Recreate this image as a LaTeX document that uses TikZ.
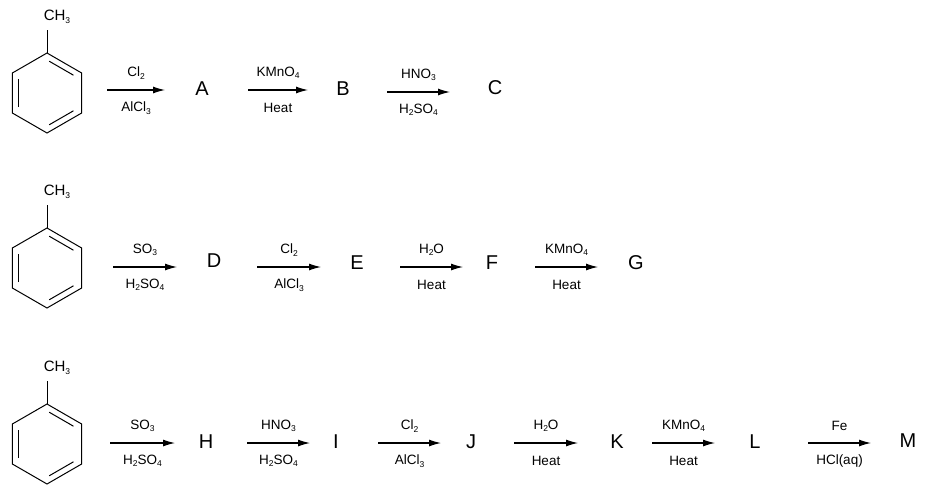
\documentclass[tikz,border=0pt]{standalone}
\usepackage{fontspec}
\setmainfont{Liberation Sans}
\usetikzlibrary{arrows.meta,calc}
\newcommand\sbs[1]{\raisebox{-0.35ex}{\fontsize{8.5}{8.5}\selectfont #1}}
\tikzset{
 rx/.style={-{Latex[length=12pt,width=7pt]}, line width=1.1pt},
 reag/.style={font=\fontsize{13.5}{13.5}\selectfont, inner sep=0pt},
 cmp/.style={font=\fontsize{20}{20}\selectfont, inner sep=0pt},
 bond/.style={line width=1pt}
}
\newcommand\tol[3]{%
 \begin{scope}[shift={(#1,#2)}, y=1pt]
  \coordinate (#3c) at (0,0);
  \draw[bond] (90:40) -- (30:40) -- (-30:40) -- (-90:40) -- (-150:40) -- (150:40) -- cycle;
  \draw[bond] ($(90:40)!0.15!(30:40)+(-120:6)$) -- ($(30:40)!0.15!(90:40)+(-120:6)$);
  \draw[bond] ($(-30:40)!0.15!(-90:40)+(120:6)$) -- ($(-90:40)!0.15!(-30:40)+(120:6)$);
  \draw[bond] ($(-150:40)!0.15!(150:40)+(0:6)$) -- ($(150:40)!0.15!(-150:40)+(0:6)$);
  \draw[bond] (90:40) -- (90:63);
  \node[font=\fontsize{15}{15}\selectfont, inner sep=0pt] (#3m) at (10,76) {CH\sbs{3}};
 \end{scope}}
\begin{document}
\begin{tikzpicture}[x=1pt,y=-1pt]
\useasboundingbox (0,0) rectangle (928,496);
\tol{47}{93}{r1}
\tol{47}{268}{r2}
\tol{47}{444}{r3}
\foreach \n/\a/\b/\y/\t/\u in {a1/107/165/90/Cl\sbs{2}/AlCl\sbs{3}, a2/248/308/90/KMnO\sbs{4}/Heat, a3/387/450/92/HNO\sbs{3}/H\sbs{2}SO\sbs{4},
  b1/113/177/267/SO\sbs{3}/H\sbs{2}SO\sbs{4}, b2/257/321/267/Cl\sbs{2}/AlCl\sbs{3}, b3/400/463/267/H\sbs{2}O/Heat, b4/535/598/267/KMnO\sbs{4}/Heat,
  c1/110/175/443/SO\sbs{3}/H\sbs{2}SO\sbs{4}, c2/247/310/443/HNO\sbs{3}/H\sbs{2}SO\sbs{4}, c3/378/441/443/Cl\sbs{2}/AlCl\sbs{3}, c4/514/578/443/H\sbs{2}O/Heat, c5/652/715/443/KMnO\sbs{4}/Heat, c6/808/871/443/Fe/HCl(aq)}{
  \coordinate (\n s) at (\a,\y);
  \coordinate (\n e) at (\b,\y);
  \draw[rx] (\n s) -- (\n e);
  \node[reag] (\n t) at ($(\n s)!0.5!(\n e)+(0,-17)$) {\t};
  \node[reag] (\n b) at ($(\n s)!0.5!(\n e)+(0,18)$) {\u};
}
\foreach \n/\x/\y/\t in {A/202/89/A, B/343/89/B, C/495/88/C, D/214/261/D, E/357/263/E, F/492/263/F, G/636/263/G,
  H/206/442/H, I/336/442/I, J/471/442/J, K/617/442/K, L/755/442/L, M/908/441/M}
  \node[cmp] (\n) at (\x,\y) {\t};
\end{tikzpicture}
\end{document}
